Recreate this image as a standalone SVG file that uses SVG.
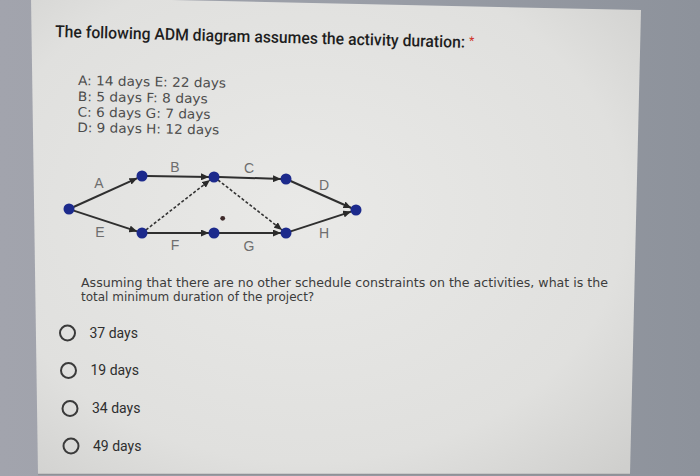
<svg xmlns="http://www.w3.org/2000/svg" width="700" height="476" viewBox="0 0 700 476">
  <defs>
    <linearGradient id="bg" x1="0" y1="0" x2="1" y2="0">
      <stop offset="0" stop-color="#a2a4ad"/>
      <stop offset="0.5" stop-color="#9a9ea7"/>
      <stop offset="1" stop-color="#8d929b"/>
    </linearGradient>
    <radialGradient id="card" cx="0.45" cy="0.45" r="0.75">
      <stop offset="0" stop-color="#e9e9e7"/>
      <stop offset="0.7" stop-color="#e0e0de"/>
      <stop offset="1" stop-color="#cfcfcd"/>
    </radialGradient>
    <marker id="arr" viewBox="0 0 8 7" markerWidth="8" markerHeight="7" refX="8" refY="3.5" orient="auto" markerUnits="userSpaceOnUse">
      <path d="M0,0 L8,3.5 L0,7 z" fill="#2a2a2a"/>
    </marker>
  </defs>
  <style>
    .title { font-family: Roboto, "Liberation Sans", sans-serif; font-weight: 500; font-size: 16.5px; fill: #1e1e1e; }
    .list { font-family: "DejaVu Sans", Verdana, sans-serif; font-size: 13px; fill: #4d4d4d; }
    .q { font-family: "DejaVu Sans", Verdana, sans-serif; font-size: 12px; fill: #3c3c3c; }
    .opt { font-family: Roboto, "Liberation Sans", sans-serif; font-size: 14px; fill: #2e2e2e; }
    .radio { fill: none; stroke: #3a3a3a; stroke-width: 2; }
    .lbl { font-family: "Liberation Sans", Arial, sans-serif; font-size: 14px; fill: #6e6e6e; text-anchor: middle; }
    .edge { stroke: #2f2f2f; stroke-width: 2; fill: none; marker-end: url(#arr); }
    .dummy { stroke: #333; stroke-width: 1.6; stroke-dasharray: 3 2; fill: none; marker-end: url(#arr); }
    .node { fill: #1c2a8c; }
  </style>

  <rect x="0" y="0" width="700" height="476" fill="url(#bg)"/>
  <polygon points="31,-3 641,10 630,474 38,474" fill="url(#card)"/>
  <line x1="38" y1="474.5" x2="630" y2="474.5" stroke="#8f9196" stroke-width="1.5"/>

  <g id="title" transform="rotate(1.5 55 37)">
    <text class="title" x="55" y="37" textLength="410" lengthAdjust="spacingAndGlyphs">The following ADM diagram assumes the activity duration:</text>
    <text x="469" y="34" font-family="Roboto, 'Liberation Sans', sans-serif" font-size="12" fill="#d0342c">*</text>
  </g>

  <g id="durations" transform="rotate(1 78 85)">
    <text class="list" x="78" y="85" textLength="148" lengthAdjust="spacingAndGlyphs">A: 14 days E: 22 days</text>
    <text class="list" x="78" y="101" textLength="130" lengthAdjust="spacingAndGlyphs">B: 5 days F: 8 days</text>
    <text class="list" x="78" y="116.5" textLength="133" lengthAdjust="spacingAndGlyphs">C: 6 days G: 7 days</text>
    <text class="list" x="78" y="132" textLength="142" lengthAdjust="spacingAndGlyphs">D: 9 days H: 12 days</text>
  </g>

  <g id="connectors">
    <line class="edge" x1="73.5" y1="207" x2="137.4" y2="178.1"/>
    <line class="edge" x1="147" y1="176.1" x2="209" y2="176.9"/>
    <line class="edge" x1="219" y1="177.1" x2="281" y2="178.9"/>
    <line class="edge" x1="290.6" y1="181" x2="351.4" y2="208"/>
    <line class="edge" x1="73.7" y1="210.6" x2="137.2" y2="231.4"/>
    <line class="edge" x1="147" y1="233" x2="209" y2="233"/>
    <line class="edge" x1="219" y1="233" x2="281" y2="233"/>
    <line class="edge" x1="290.7" y1="231.4" x2="351.2" y2="211.6"/>
    <line class="dummy" x1="146" y1="229.9" x2="210" y2="180"/>
    <line class="dummy" x1="218" y1="180" x2="282" y2="229.9"/>
    <text class="lbl" x="99" y="188">A</text>
    <text class="lbl" x="175" y="172">B</text>
    <text class="lbl" x="249" y="173">C</text>
    <text class="lbl" x="324" y="190">D</text>
    <text class="lbl" x="100" y="237">E</text>
    <text class="lbl" x="175" y="250">F</text>
    <text class="lbl" x="249" y="251">G</text>
    <text class="lbl" x="324" y="238">H</text>
  </g>

  <g id="n1"><circle class="node" cx="69" cy="209" r="5.5"/></g>
  <g id="n2"><circle class="node" cx="142" cy="176" r="5.5"/></g>
  <g id="n3"><circle class="node" cx="214" cy="177" r="5.5"/></g>
  <g id="n4"><circle class="node" cx="286" cy="179" r="5.5"/></g>
  <g id="n5"><circle class="node" cx="356" cy="210" r="5.5"/></g>
  <g id="n6"><circle class="node" cx="142" cy="233" r="5.5"/></g>
  <g id="n7"><circle class="node" cx="214" cy="233" r="5.5"/></g>
  <g id="n8"><circle class="node" cx="286" cy="233" r="5.5"/></g>
  <circle cx="222.7" cy="218.3" r="2.4" fill="#3e2a2a"/>

  <g id="question">
    <text class="q" x="81" y="286.5" textLength="527" lengthAdjust="spacingAndGlyphs">Assuming that there are no other schedule constraints on the activities, what is the</text>
    <text class="q" x="81" y="301">total minimum duration of the project?</text>
  </g>

  <g id="opt1"><circle class="radio" cx="67.5" cy="333" r="7.5"/><text class="opt" x="89.5" y="337.8">37 days</text></g>
  <g id="opt2"><circle class="radio" cx="68.5" cy="370.5" r="7.5"/><text class="opt" x="90.5" y="375.3">19 days</text></g>
  <g id="opt3"><circle class="radio" cx="70" cy="408.5" r="7.5"/><text class="opt" x="92" y="413.3">34 days</text></g>
  <g id="opt4"><circle class="radio" cx="71" cy="446" r="7.5"/><text class="opt" x="93" y="450.8">49 days</text></g>
</svg>
